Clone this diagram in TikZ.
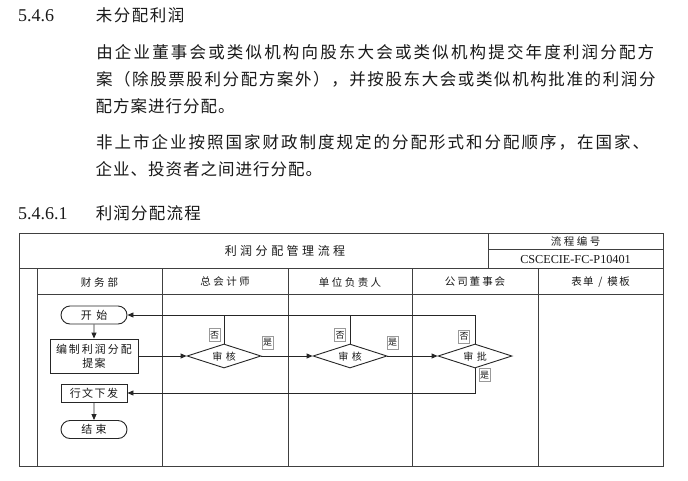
\documentclass[tikz,border=0pt]{standalone}
\usepackage{fontspec}
\setmainfont{Liberation Serif}
\newfontfamily\cjk{Noto Sans CJK SC}
\usetikzlibrary{arrows.meta,shapes.geometric,shapes.misc}
\makeatletter
% each character in a box of fixed pitch
\newcommand\ls[2]{\def\ls@w{#1}\ls@a#2\relax}
\def\ls@a#1{\ifx\relax#1\else\makebox[\ls@w]{#1}\expandafter\ls@a\fi}
\makeatother
\tikzset{
  x=1pt, y=-1pt,
  body/.style={anchor=west, inner sep=0, text=black!90, font=\cjk\fontsize{16.5}{16.5}\selectfont},
  num/.style={anchor=west, inner sep=0, text=black!90, font=\fontsize{18}{18}\selectfont},
  tbl/.style={draw=black!75, line width=1pt},
  ln/.style={draw=black!85, line width=0.9pt},
  arr/.style={ln, -{Triangle[length=6pt,width=5pt]}},
  txt/.style={inner sep=0, text=black!90, font=\cjk\fontsize{10.5}{10.5}\selectfont},
  term/.style={rounded rectangle, draw=black!85, line width=0.9pt, minimum width=66pt,
    minimum height=18pt, inner sep=0, text=black!90, font=\cjk\fontsize{11}{11}\selectfont},
  proc/.style={rectangle, draw=black!85, line width=0.9pt, inner sep=0, text=black!90,
    font=\cjk\fontsize{11}{14}\selectfont, align=center},
  dec/.style={diamond, draw=black!85, line width=0.9pt, inner sep=0,
    minimum width=74pt, minimum height=24pt},
  dtxt/.style={inner sep=0, text=black!90, font=\cjk\fontsize{10}{10}\selectfont},
  lab/.style={draw=black!40, line width=0.5pt, inner sep=0, minimum width=11pt,
    minimum height=13pt, text=black!90, font=\cjk\fontsize{9}{9}\selectfont},
}
\begin{document}
\begin{tikzpicture}
\useasboundingbox[fill=white] (0,0) rectangle (688,480);

% ---- text above the chart ----
\node[num] (h546) at (18,15.5) {5.4.6};
\node[body] (h546t) at (95,15) {\ls{18pt}{未分配利润}};
\node[body] (p1) at (95,52.5) {\ls{18.67pt}{由企业董事会或类似机构向股东大会或类似机构提交年度利润分配方}};
\node[body] (p2) at (95,79.5) {\ls{18.1pt}{案（除股票股利分配方案外），并按股东大会或类似机构批准的利润分}};
\node[body] (p3) at (95,106.5) {\ls{17.5pt}{配方案进行分配。}};
\node[body] (q1) at (95,142.5) {\ls{18.5pt}{非上市企业按照国家财政制度规定的分配形式和分配顺序，在国家、}};
\node[body] (q2) at (95,169.5) {\ls{17.5pt}{企业、投资者之间进行分配。}};
\node[num] (h5461) at (18,213.5) {5.4.6.1};
\node[body] (h5461t) at (95,213) {\ls{17.7pt}{利润分配流程}};

% ---- table ----
\draw[tbl] (19,233) rectangle (663,466);
\draw[tbl] (19,268) -- (663,268);
\draw[tbl] (488,233) -- (488,268);
\draw[tbl] (488,249.5) -- (663,249.5);
\draw[tbl] (37,294) -- (663,294);
\foreach \xx in {37,162,288,412,538} \draw[tbl] (\xx,268) -- (\xx,466);

\node[txt, font=\cjk\fontsize{12}{12}\selectfont] (title) at (285,251) {\ls{15.5pt}{利润分配管理流程}};
\node[txt] (codeh) at (575.5,241.5) {\ls{13pt}{流程编号}};
\node[inner sep=0, text=black!90, font=\fontsize{12.2}{12}\selectfont] (code) at (575.5,259) {CSCECIE-FC-P10401};

\node[txt] (c1) at (99.5,282) {\ls{13.3pt}{财务部}};
\node[txt] (c2) at (225,282) {\ls{13pt}{总会计师}};
\node[txt] (c3) at (350,282) {\ls{13pt}{单位负责人}};
\node[txt] (c4) at (475,282) {\ls{12.5pt}{公司董事会}};
\node[txt] (c5) at (600.5,282) {\ls{12pt}{表单/模板}};

% ---- flow ----
\node[term] (s) at (94,315) {\ls{15.5pt}{开始}};
\node[proc, minimum width=88pt, minimum height=34pt] (p) at (94,356)
  {\ls{13pt}{编制利润分配}\\\ls{12.5pt}{提案}};
\node[proc, minimum width=66pt, minimum height=18pt] (iss) at (94,393) {\ls{12.5pt}{行文下发}};
\node[term] (e) at (94,429.5) {\ls{14.5pt}{结束}};

\node[dec] (d1) at (224,356) {};
\node[dtxt] (d1t) at (224,356.5) {\ls{13.5pt}{审核}};
\node[dec] (d2) at (350,356) {};
\node[dtxt] (d2t) at (350,356.5) {\ls{13.5pt}{审核}};
\node[dec] (d3) at (475,356) {};
\node[dtxt] (d3t) at (475,356.5) {\ls{13.5pt}{审批}};

\draw[arr] (s) -- (p);
\draw[arr] (iss) -- (e);
\draw[arr] (p.east) -- (d1.west);
\draw[arr] (d1.east) -- (d2.west);
\draw[arr] (d2.east) -- (d3.west);
\draw[arr] (d3.north) |- (s.east);
\draw[ln] (d1.north) -- (d1.north |- s.east);
\draw[ln] (d2.north) -- (d2.north |- s.east);
\draw[arr] (d3.south) |- (iss.east);

\node[lab] (n1) at (214.5,335) {否};
\node[lab] (y1) at (267.5,342.5) {是};
\node[lab] (n2) at (340,335) {否};
\node[lab] (y2) at (392.5,342.5) {是};
\node[lab] (n3) at (464,336.5) {否};
\node[lab] (y3) at (484.5,375) {是};
\end{tikzpicture}
\end{document}
